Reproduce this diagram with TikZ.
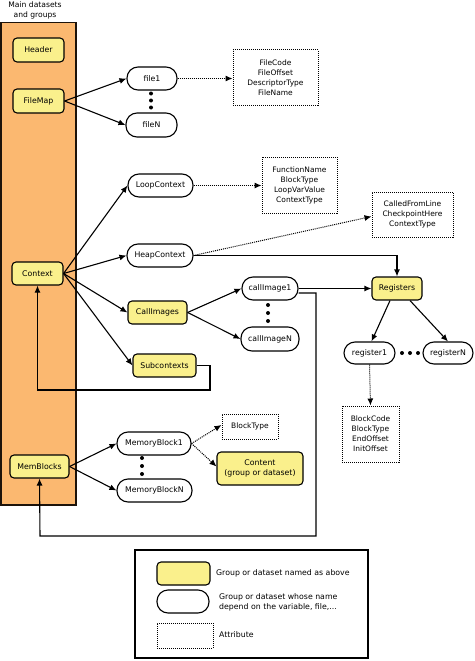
\documentclass[tikz,border=0pt]{standalone}
\usepackage{fontspec}
\setmainfont{DejaVu Sans}
\usetikzlibrary{arrows.meta}
\definecolor{orangec}{HTML}{FBB870}
\definecolor{yellowc}{HTML}{FAF08C}
\begin{document}
\begin{tikzpicture}[x=1pt,y=-1pt,
  font=\fontsize{7.8}{10}\selectfont,
  sz/.style 2 args={minimum width=#1pt, minimum height=#2pt},
  basebox/.style={draw, line width=1.1pt, inner sep=0pt, align=center},
  yel/.style={basebox, fill=yellowc, rounded corners=4pt},
  pill/.style={basebox, fill=white, rounded corners=11pt},
  attr/.style={basebox, line width=1pt, dash pattern=on 1pt off 1pt, font=\fontsize{7.5}{10}\selectfont},
  arr/.style={line width=1.1pt, -{Latex[length=7pt,width=6pt]}},
  darr/.style={line width=1pt, dash pattern=on 1pt off 1pt, -{Latex[length=7pt,width=6pt]}},
  dot/.style={fill=black}
]
\useasboundingbox (0,0) rectangle (474,661);

% main column
\draw[line width=1.1pt, draw=black!85!brown, fill=orangec] (1,22.5) rectangle (76,505);
\node[align=center, font=\fontsize{7.6}{10}\selectfont] (title) at (35,10.5) {Main datasets\\and groups};

% left column nodes
\node[yel, sz={51}{24}] (hdr) at (38.5,50) {Header};
\node[yel, sz={51}{24}] (fmap) at (38.5,101) {FileMap};
\node[yel, sz={51}{23}] (ctx) at (37.5,273.5) {Context};
\node[yel, sz={59}{23}] (memb) at (39.5,466.5) {MemBlocks};

% files
\node[pill, sz={50}{23}] (f1) at (152,78.5) {file1};
\node[pill, sz={51}{24}] (fN) at (151.5,125) {fileN};
\node[attr, sz={85}{55}] (fattr) at (275.5,77.5) {FileCode\\FileOffset\\DescriptorType\\FileName};
\foreach \yy in {93.5,100.5,107.5} \fill[dot] (151,\yy) circle (2pt);

% contexts
\node[pill, sz={65}{23}] (loop) at (160.5,185.5) {LoopContext};
\node[attr, sz={75}{56}] (lattr) at (299.5,185) {FunctionName\\BlockType\\LoopVarValue\\ContextType};
\node[pill, sz={66}{23}] (heap) at (160,255.5) {HeapContext};
\node[attr, sz={81}{45}] (hattr) at (412.5,214.5) {CalledFromLine\\CheckpointHere\\ContextType};
\node[yel, sz={59}{23}] (cimg) at (157.5,312.5) {CallImages};
\node[yel, sz={63}{23}] (sub) at (164.5,365.5) {Subcontexts};

% call images
\node[pill, sz={56}{23}] (ci1) at (270,288.5) {callImage1};
\node[pill, sz={58}{24}] (ciN) at (270,339) {callImageN};
\foreach \yy in {305,313,321} \fill[dot] (268,\yy) circle (2pt);

% registers
\node[yel, sz={50}{23}] (reg) at (397,288.5) {Registers};
\node[pill, sz={51}{22}] (r1) at (369.5,353) {register1};
\node[pill, sz={50}{22}] (rN) at (448,353) {registerN};
\foreach \xx in {402,410,418} \fill[dot] (\xx,353) circle (2pt);
\node[attr, sz={57}{56}] (rattr) at (370.5,434) {BlockCode\\BlockType\\EndOffset\\InitOffset};

% memory blocks
\node[pill, sz={74}{23}] (mb1) at (154,443.5) {MemoryBlock1};
\node[pill, sz={75}{23}] (mbN) at (154.5,490.5) {MemoryBlockN};
\foreach \yy in {458,466,474} \fill[dot] (142,\yy) circle (2pt);
\node[attr, sz={56}{25}] (bt) at (250,426.5) {BlockType};
\node[yel, sz={86}{33}] (cont) at (260,468.5) {Content\\(group or dataset)};

% connectors
\draw[arr] (fmap.east) -- (f1.west);
\draw[arr] (fmap.east) -- (fN.west);
\draw[darr] (f1.east) -- (fattr.west |- f1.east);

\draw[arr] (ctx.east) -- (loop.west);
\draw[arr] (ctx.east) -- (heap.west);
\draw[arr] (ctx.east) -- (cimg.west);
\draw[arr] (ctx.east) -- (sub.west);
\draw[darr] (loop.east) -- (lattr.west |- loop.east);
\draw[darr] (heap.east) -- ([yshift=-2pt]hattr.west);
\draw[arr] (heap.east) -- (reg.north |- heap.east) -- (reg.north);

\draw[arr] (cimg.east) -- (ci1.west);
\draw[arr] (cimg.east) -- (ciN.west);
\draw[arr] (ci1.east) -- (reg.west);

\coordinate (c1) at (316,293);
\coordinate (c2) at (316,536);
\coordinate (c3) at (40,536);
\draw[arr] ([yshift=-4.5pt]ci1.east) -- (c1) -- (c2) -- (c3) -- (memb.south);

\coordinate (s1) at (210,365.5);
\coordinate (s2) at (210,390);
\coordinate (s3) at (37.5,390);
\draw[arr] (sub.east) -- (s1) -- (s2) -- (s3) -- (ctx.south);

\draw[arr] ([xshift=-7pt]reg.south) -- ([xshift=2pt]r1.north);
\draw[arr] ([xshift=13pt]reg.south) -- (rN.north);
\draw[darr] (r1.south) -- (rattr.north);

\draw[arr] (memb.east) -- (mb1.west);
\draw[arr] (memb.east) -- (mbN.west);
\draw[darr] (mb1.east) -- ([yshift=1.5pt]bt.west);
\draw[darr] (mb1.east) -- ([yshift=2pt]cont.west);

% legend
\draw[line width=1.1pt] (135,550) rectangle (368,658);
\node[yel, sz={53}{23}] (lg1) at (183.5,573.5) {};
\node[pill, sz={52}{23}] (lg2) at (183,601.5) {};
\node[attr, sz={56}{25}] (lg3) at (185,635.5) {};
\node[anchor=west, inner sep=0pt] (lt1) at (216,573.5) {Group or dataset named as above};
\node[anchor=west, inner sep=0pt, align=left] (lt2) at (219,602) {Group or dataset whose name\\depend on the variable, file,...};
\node[anchor=west, inner sep=0pt] (lt3) at (219,635) {Attribute};
\end{tikzpicture}
\end{document}
